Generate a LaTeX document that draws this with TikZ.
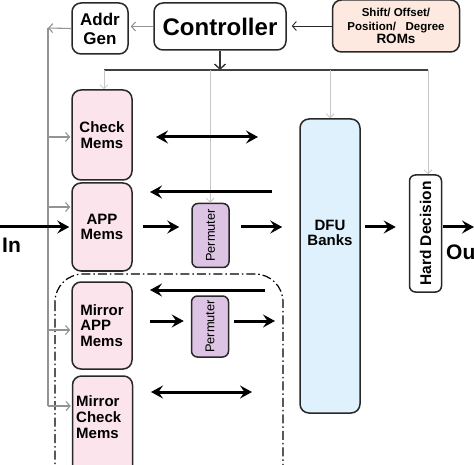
\documentclass[tikz,border=0pt]{standalone}
\usepackage{fontspec}
\setmainfont{Liberation Sans}
\usepackage{graphicx}
\usetikzlibrary{arrows.meta}

\definecolor{mempink}{RGB}{252,228,236}
\definecolor{permpurple}{RGB}{221,196,228}
\definecolor{dfublue}{RGB}{222,241,252}
\definecolor{rompeach}{RGB}{253,233,224}
\definecolor{edgegray}{RGB}{40,40,40}

\newcommand\ctrlfont{\fontsize{24}{26}\selectfont\bfseries}
\newcommand\addrfont{\fontsize{17}{19}\selectfont\bfseries}
\newcommand\memfont{\fontsize{15}{15.7}\selectfont\bfseries}
\newcommand\romfont{\fontsize{11.5}{13.5}\selectfont\bfseries}
\newcommand\permfont{\fontsize{12.8}{14}\selectfont}
\newcommand\hardfont{\fontsize{15.5}{17}\selectfont\bfseries}
\newcommand\iofont{\fontsize{21}{24}\selectfont\bfseries}

\tikzset{
  blk/.style={draw=edgegray, line width=1.5pt, rounded corners=9pt, inner sep=0pt, align=center},
  mem/.style={blk, fill=mempink, minimum width=60pt, font=\memfont},
  perm/.style={blk, fill=permpurple, rounded corners=6pt, minimum width=37pt, font=\permfont},
  bigarr/.style={line width=3pt, -{Stealth[length=12pt,width=13pt,inset=4.5pt]}},
  bigboth/.style={line width=3pt, {Stealth[length=12pt,width=13pt,inset=4.5pt]}-{Stealth[length=12pt,width=13pt,inset=4.5pt]}},
  ctl/.style={draw=gray!85, line width=1.1pt, -{Straight Barb[length=4pt,width=9pt]}},
  feed/.style={draw=gray!45, line width=0.8pt, -{Straight Barb[length=4pt,width=8pt]}},
}

\begin{document}
\begin{tikzpicture}[x=1pt,y=-1pt]
\clip (0,0) rectangle (474,465);

% control blocks
\node[blk, minimum width=56pt, minimum height=51pt, font=\addrfont] (addr) at (100,28.5) {Addr\\Gen};
\node[blk, minimum width=132pt, minimum height=47pt, font=\ctrlfont] (ctrl) at (220,26.5) {Controller};
\node[blk, fill=rompeach, minimum width=127pt, minimum height=52pt, font=\romfont] (roms) at (396,26) {Shift/ Offset/\\Position/\ \ \ Degree\\{\fontsize{13.5}{14}\selectfont ROMs}};

% memories
\node[mem, minimum height=90pt] (check) at (102,135) {Check\\Mems};
\node[mem, minimum height=88pt] (app) at (102,227) {APP\\Mems};
\node[mem, minimum height=87pt, align=left] (mapp) at (102,325.5) {Mirror\\APP\\Mems};
\node[mem, minimum height=100pt] (mcheck) at (102.5,426) {};
\node[font=\memfont, align=left, anchor=west, inner sep=0pt] (mchecktxt) at (76,417) {Mirror\\Check\\Mems};

% permuters, DFU, decision
\node[perm, minimum height=64pt] (perm1) at (210.5,235.5) {\rotatebox{90}{Permuter}};
\node[perm, minimum height=61pt] (perm2) at (210,326.5) {\rotatebox{90}{Permuter}};
\node[blk, fill=dfublue, minimum width=60pt, minimum height=294pt] (dfu) at (330,266) {};
\node[font=\memfont, align=center] (dfutxt) at (330,233) {DFU\\Banks};
\node[blk, fill=white, rounded corners=6pt, minimum width=32pt, minimum height=117pt, font=\hardfont] (hard) at (425.5,233.5) {\rotatebox{90}{Hard Decision}};

\node[font=\iofont, anchor=west, inner sep=0pt] (in) at (2,245) {In};
\node[font=\iofont, anchor=west, inner sep=0pt] (out) at (446,252) {Out};

% mirror frame
\draw[line width=1.2pt, dash pattern=on 9pt off 3pt on 1.5pt off 3pt, rounded corners=28pt] (55,274) rectangle (283,500);

% controller lines
\draw[ctl, draw=edgegray, line width=0.9pt, shorten >=5pt] (roms.west) -- (roms.west -| ctrl.east);
\draw[ctl, shorten >=2pt] (ctrl.west) -- (ctrl.west -| addr.east);
\coordinate (bus) at (48,28);
\coordinate (busend) at (48,406);
\draw[ctl] (addr.west) -- (bus);
\draw[draw=gray!85, line width=1.1pt] (bus) -- (busend);
\foreach \m/\y in {check/137, app/207, mapp/330, mcheck/406}{
  \coordinate (br) at (48,\y);
  \draw[ctl, shorten >=1pt] (br) -- (br -| \m.west);
}
\coordinate (busl) at (104,70);
\coordinate (busr) at (428,70);
\draw[line width=1.4pt, draw=black!80, -{Straight Barb[length=5pt,width=11pt]}] (ctrl.south) -- (ctrl.south |- busl);
\draw[line width=1.4pt, draw=black!75] (busl) -- (busr);
\foreach \x/\n in {104/check, 210/perm1, 330/dfu, 428/hard}{
  \coordinate (f) at (\x,70);
  \draw[feed] (f) -- (f |- \n.north);
}

% data paths
\coordinate (inpt) at (0,227);
\coordinate (outpt) at (474,227);
\draw[bigarr, shorten >=2pt] (inpt) -- (inpt -| app.west);
\draw[bigarr, shorten <=10pt, shorten >=12pt] (app.east) -- (app.east -| perm1.west);
\draw[bigarr, shorten <=11pt, shorten >=17pt] (app.east -| perm1.east) -- (app.east -| dfu.west);
\draw[bigarr, shorten <=4pt, shorten >=13pt] (app.east -| dfu.east) -- (app.east -| hard.west);
\draw[bigarr, shorten <=1pt] (app.east -| hard.east) -- (outpt);

\coordinate (c1a) at (156,137);
\coordinate (c1b) at (258,137);
\draw[bigboth] (c1a) -- (c1b);
\coordinate (r1) at (272,192);
\coordinate (r1e) at (150,192);
\draw[bigarr] (r1) -- (r1e);

\coordinate (r2) at (265,290);
\coordinate (r2e) at (150,290);
\draw[bigarr] (r2) -- (r2e);
\coordinate (mrow) at (0,321);
\coordinate (m2e) at (275,321);
\draw[bigarr, shorten <=17pt, shorten >=7pt] (mapp.east |- mrow) -- (perm2.west |- mrow);
\draw[bigarr, shorten <=5pt] (perm2.east |- mrow) -- (m2e);
\coordinate (c2a) at (151,392);
\coordinate (c2b) at (252,392);
\draw[bigboth] (c2a) -- (c2b);
\end{tikzpicture}
\end{document}
